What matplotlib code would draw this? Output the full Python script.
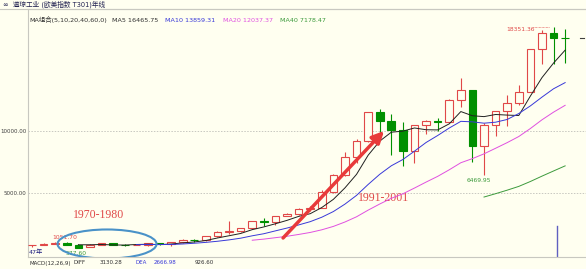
import numpy as np
import pandas as pd
import matplotlib
matplotlib.use("Agg")
import matplotlib.pyplot as plt
from matplotlib.patches import Ellipse
from matplotlib.lines import Line2D

plt.rcParams['font.family'] = ['DejaVu Sans', 'Noto Sans CJK SC']

# yearly candles, Dow Jones Industrial 1970 - 2016
years = list(range(1970, 2017))
opens = [800, 839, 890, 1020, 851, 632, 858, 1004, 831, 805,
         838, 963, 875, 1046, 1258, 1211, 1546, 1895, 1938, 2168,
         2753, 2633, 3168, 3301, 3754, 3834, 5117, 6448, 7908, 9181,
         11497, 10787, 10021, 8341, 10453, 10783, 10717, 12463, 13264, 8776,
         10428, 11577, 12217, 13104, 16576, 17823, 17405]
highs = [842, 951, 1036, 1051.70, 891, 881, 1014, 1004, 907, 897,
         1000, 1024, 1070, 1287, 1286, 1553, 1955, 2722, 2183, 2791,
         2999, 3168, 3413, 3794, 3978, 5216, 6560, 8299, 9374, 11497,
         11750, 11350, 10673, 10462, 10868, 10984, 12529, 14198, 13279, 10580,
         11585, 12876, 13661, 16588, 18103, 18351.36, 18167]
lows = [631, 798, 889, 788, 577.60, 632, 858, 800, 742, 796,
        759, 824, 776, 1027, 1086, 1184, 1502, 1738, 1879, 2144,
        2365, 2470, 3136, 3242, 3593, 3832, 5000, 6391, 7400, 9121,
        9654, 8062, 7197, 7416, 9708, 10000, 10661, 11939, 7449, 6469.95,
        9614, 10404, 12035, 13104, 15340, 15370, 15451]
closes = [839, 890, 1020, 851, 616, 852, 1004, 831, 805, 838,
          963, 875, 1046, 1258, 1211, 1546, 1895, 1938, 2168, 2753,
          2633, 3168, 3301, 3754, 3834, 5117, 6448, 7908, 9181, 11497,
          10787, 10021, 8341, 10453, 10783, 10717, 12463, 13264, 8776, 10428,
          11577, 12217, 13104, 16576, 17823, 17425, 17401]

ma_periods = [5, 10, 20, 40]
ma_colors = ['#202020', '#3838d8', '#e050e0', '#3c9a3c']

ytick_vals = [5000, 10000]
ytick_labels = ['5000.00', '10000.00']

bg = '#fffff0'
up_col = '#e04848'
down_col = '#009000'

fig = plt.figure(figsize=(5.86, 2.69), dpi=100, facecolor=bg)
ax = fig.add_axes([28 / 586, 12 / 269, 558 / 586, 248 / 269], facecolor=bg)

x = np.arange(len(years))
o = np.array(opens)
c = np.array(closes)
h = np.array(highs)
l = np.array(lows)
up = c >= o
col = np.where(up, up_col, down_col)
lo_body = np.minimum(o, c)
hi_body = np.maximum(o, c)

# grid
for v in ytick_vals:
    ax.axhline(v, color='#c8c8c0', lw=0.7, ls=(0, (1.5, 1.5)), zorder=0)

# wicks
ax.vlines(x, l, lo_body, colors=col, lw=0.8, zorder=2)
ax.vlines(x, hi_body, h, colors=col, lw=0.8, zorder=2)
# bodies
face = np.where(up, bg, down_col)
ax.bar(x, hi_body - lo_body, bottom=lo_body, width=0.66, color=face,
       edgecolor=col, linewidth=0.8, zorder=3)

# moving averages
s = pd.Series(closes, dtype=float)
for p, mc in zip(ma_periods, ma_colors):
    ax.plot(x, s.rolling(p).mean(), color=mc, lw=0.7, zorder=4)

# annotations
ax.add_patch(Ellipse((6.47, 907), 8.54, 2330, fill=False, ec='#4a92c8', lw=1.5, zorder=5))
ax.text(5.7, 3234, '1970-1980', color='#e04848', fontsize=8.5, family='Liberation Serif',
        ha='center', va='center')
ax.text(30.3, 4600, '1991-2001', color='#e04848', fontsize=8.5, family='Liberation Serif',
        ha='center', va='center')
ax.annotate('', xy=(30.37, 9980), xytext=(21.66, 1390),
            arrowprops=dict(arrowstyle='-|>,head_length=0.7,head_width=0.35',
                            color='#e83a3a', lw=2.5, shrinkA=0, shrinkB=0), zorder=6)

ax.text(1.73, 1390, '1051.70', color='#e04848', fontsize=4.3, ha='left', va='center')
ax.text(2.85, 185, '577.60', color='#3c9a3c', fontsize=4.3, ha='left', va='center')
ax.text(40.9, 18082, '18351.36', color='#e04848', fontsize=4.3, ha='left', va='center')
ax.plot([43.2, 44.6], [18351.36, 18351.36], color='#e04848', lw=0.5, ls=(0, (1, 1)))
ax.text(37.5, 6043, '6469.95', color='#3c9a3c', fontsize=4.3, ha='left', va='center')
ax.text(-0.3, 265, '47年', color='#202080', fontsize=4.5, ha='left', va='center')

ax.plot([45.3, 45.3], [-140, 2350], color='#6060c0', lw=1.0)
ax.plot([47.3, 47.65], [closes[-1], closes[-1]], color='#404040', lw=0.8)

ax.set_xlim(-0.35, 47.8)
ax.set_ylim(-136, 19767)
ax.set_yticks(ytick_vals)
ax.set_yticklabels(ytick_labels, fontsize=4, color='#404040')
ax.tick_params(axis='y', length=0, pad=1)
ax.set_xticks([])
ax.spines['right'].set_visible(False)
for sp in ['left', 'bottom', 'top']:
    ax.spines[sp].set_color('#c8c8c0')
    ax.spines[sp].set_linewidth(0.8)

# header line across whole width
fig.add_artist(Line2D([0, 1], [1 - 9 / 269, 1 - 9 / 269], color='#c8c8c0', lw=0.8))

fig.text(3 / 586, 1 - 4 / 269, '∞  道琼工业 (欧美指数 T301)年线', fontsize=4.8,
         color='#202050', ha='left', va='center')

ma_texts = [('MA组合(5,10,20,40,60,0)', 29, '#303030'),
            ('MA5 16465.75', 112, '#303030'),
            ('MA10 13859.31', 165, '#3838d8'),
            ('MA20 12037.37', 223, '#e050e0'),
            ('MA40 7178.47', 280, '#3c9a3c')]
for t, px, tc in ma_texts:
    fig.text(px / 586, 1 - 20 / 269, t, fontsize=4.6, color=tc, ha='left', va='center')

macd_texts = [('MACD(12,26,9)', 29, '#303030'),
              ('DIFF', 74, '#303030'),
              ('3130.28', 100, '#303030'),
              ('DEA', 135, '#3838d8'),
              ('2666.98', 154, '#3838d8'),
              ('926.60', 195, '#303030')]
for t, px, tc in macd_texts:
    fig.text(px / 586, 1 - 263 / 269, t, fontsize=4.0, color=tc, ha='left', va='center')

fig.savefig('out.png', dpi=100, facecolor=bg)
